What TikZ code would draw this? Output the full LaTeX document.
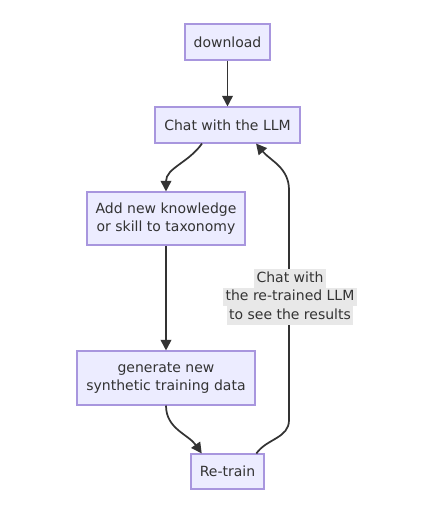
\documentclass[tikz,border=0pt]{standalone}
\usepackage{fontspec}
\setmainfont{DejaVu Sans}
\usetikzlibrary{arrows.meta}

\definecolor{boxfill}{HTML}{ECECFF}
\definecolor{boxline}{HTML}{A896DE}
\definecolor{flowline}{HTML}{333333}
\definecolor{labelbg}{HTML}{E8E8E8}

\newcommand{\labelline}[1]{{\setlength{\fboxsep}{0pt}\colorbox{labelbg}{\strut\,#1\,}}}

\tikzset{
    stepbox/.style={draw=boxline, fill=boxfill, line width=0.8pt, inner sep=0pt,
        align=center, text=flowline, font=\fontsize{10.5}{14}\selectfont},
    flow/.style={draw=flowline, line width=1.3pt, -{Triangle[length=8pt,width=8pt]}},
    edgelabel/.style={inner sep=0pt, align=center, text=flowline,
        font=\fontsize{10.5}{14}\selectfont}
}

\begin{document}
\begin{tikzpicture}[x=0.75pt,y=-0.75pt]
            \useasboundingbox (0,0) rectangle (433,520);

            \node[stepbox, minimum width=63.75pt, minimum height=27pt] (download) at (227.5,42) {download};
            \node[stepbox, minimum width=108.75pt, minimum height=27pt] (chat) at (227.5,125) {Chat with the LLM};
            \node[stepbox, minimum width=118.5pt, minimum height=39.75pt] (add) at (166,218.5) {Add new knowledge\\or skill to taxonomy};
            \node[stepbox, minimum width=133.5pt, minimum height=40.5pt] (gen) at (166,378) {generate new\\synthetic training data};
            \node[stepbox, minimum width=54.75pt, minimum height=26.25pt] (retrain) at (227.5,471.5) {Re-train};

            \coordinate (bendlow) at (289,420);
            \coordinate (bendhigh) at (289,190);

            \draw[flow] (download) -- (chat);
            \draw[flow] (chat.216) to[out=-125,in=90] (add.north);
            \draw[flow] (add) -- (gen);
            \draw[flow] (gen.south) to[out=-90,in=125] (retrain.145);
            \draw[flow] (retrain.32) to[out=55,in=-90] (bendlow) -- (bendhigh) to[out=90,in=-50] (chat.-33);

            \node[edgelabel] (retrainlabel) at (290,297) {\labelline{Chat with}\\\labelline{the re-trained LLM}\\\labelline{to see the results}};
\end{tikzpicture}
\end{document}
